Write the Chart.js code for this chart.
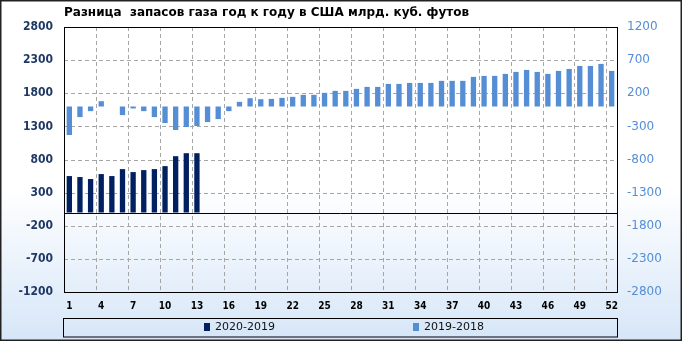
<!DOCTYPE html>
<html><head><meta charset="utf-8">
<script src="https://cdn.jsdelivr.net/npm/chart.js@4"></script>
<style>html,body{margin:0;padding:0;background:#fff}canvas{display:block}</style>
</head><body>
<canvas id="c" width="682" height="341"></canvas>
<script>
const TITLE = "Разница  запасов газа год к году в США млрд. куб. футов";
const categories = Array.from({length: 52}, (_, i) => String(i + 1));
const seriesNames = ["2020-2019", "2019-2018"];
const values2020_2019 = [550, 535, 505, 580, 550, 655, 610, 640, 655, 700, 850, 895, 895];
const values2019_2018 = [-430, -160, -70, 80, 0, -130, -30, -70, -160, -250, -355, -310, -295, -235, -190, -70,
  70, 125, 110, 115, 130, 146, 176, 176, 206, 236, 236, 266, 296, 296, 341, 341, 356, 356, 356, 387, 387, 387,
  447, 462, 462, 492, 522, 552, 522, 492, 537, 567, 612, 612, 643, 537];
const leftTicks = [-1200, 2800, 500];   // min, max, step
const rightTicks = [-2800, 1200, 500];  // min, max, step

const COL_DARK = "#002060";
const COL_BLUE = "#558ed5";
const GRID = "#a6a6a6";
const FONT = "'DejaVu Sans Condensed','DejaVu Sans',sans-serif";

function drawGrid(chart) {
  const {ctx, chartArea: a} = chart;
  const xs = chart.scales.x, ys = chart.scales.y;
  ctx.save();
  ctx.strokeStyle = GRID;
  ctx.lineWidth = 1;
  ctx.setLineDash([4, 3]);
  ys.ticks.forEach(t => {
    const y = Math.round(ys.getPixelForValue(t.value)) + 0.5;
    ctx.beginPath(); ctx.moveTo(a.left, y); ctx.lineTo(a.right, y); ctx.stroke();
  });
  const half = (xs.getPixelForValue(1) - xs.getPixelForValue(0)) / 2;
  for (let i = 3; i < categories.length; i += 3) {
    const x = Math.round(xs.getPixelForValue(i) - half) + 0.5;
    ctx.beginPath(); ctx.moveTo(x, a.top); ctx.lineTo(x, a.bottom); ctx.stroke();
  }
  ctx.restore();
}

const bgPlugin = {
  id: 'bg',
  beforeDraw(chart) {
    const {ctx, width, height} = chart;
    const g = ctx.createLinearGradient(0, 0, 0, height);
    g.addColorStop(0, '#ffffff');
    g.addColorStop(0.55, '#ffffff');
    g.addColorStop(1, '#d6e6f8');
    ctx.save();
    ctx.fillStyle = g;
    ctx.fillRect(0, 0, width, height);
    ctx.restore();
    drawGrid(chart);
  },
  afterDraw(chart) {
    const {ctx, chartArea: a, width, height} = chart;
    ctx.save();
    ctx.strokeStyle = '#000';
    ctx.lineWidth = 1;
    ctx.strokeRect(Math.round(a.left) + 0.5, Math.round(a.top) + 0.5, Math.round(a.right - a.left), Math.round(a.bottom - a.top));
    const y0 = Math.round(chart.scales.y.getPixelForValue(0)) + 0.5;
    ctx.beginPath(); ctx.moveTo(a.left, y0); ctx.lineTo(a.right, y0); ctx.stroke();
    ctx.lineWidth = 1.5;
    ctx.strokeStyle = '#222';
    ctx.strokeRect(0.75, 0.75, width - 1.5, height - 1.5);
    ctx.lineWidth = 1;
    ctx.strokeStyle = '#000';
    const lt = 318.5, lh = 18.5;
    ctx.strokeRect(Math.round(a.left) - 0.5, lt, Math.round(a.right - a.left) + 1, lh);
    const cx = (a.left + a.right) / 2;
    const offs = [-136.5, 72.5];
    ctx.font = "11px 'DejaVu Sans',sans-serif";
    ctx.textBaseline = 'middle';
    ctx.textAlign = 'left';
    chart.data.datasets.forEach((ds, i) => {
      const x = Math.round(cx + offs[i]);
      ctx.fillStyle = ds.backgroundColor;
      ctx.fillRect(x, 323, 6, 8);
      ctx.fillStyle = '#111';
      ctx.fillText(ds.label, x + 11, 327.5);
    });
    ctx.restore();
  }
};

new Chart(document.getElementById('c'), {
  type: 'bar',
  data: {
    labels: categories,
    datasets: [
      {label: seriesNames[0], data: values2020_2019, backgroundColor: COL_DARK, yAxisID: 'y', grouped: false,
       barPercentage: 0.5, categoryPercentage: 1.0, order: 1},
      {label: seriesNames[1], data: values2019_2018, backgroundColor: COL_BLUE, yAxisID: 'y2', grouped: false,
       barPercentage: 0.5, categoryPercentage: 1.0, order: 2}
    ]
  },
  options: {
    responsive: false,
    animation: false,
    events: [],
    layout: {padding: {left: 0, right: 0, top: 0, bottom: 24}},
    plugins: {
      legend: {display: false},
      tooltip: {enabled: false},
      title: {
        display: true, text: TITLE, align: 'start', fullSize: false, color: '#000',
        font: {family: "'DejaVu Sans',sans-serif", size: 12, weight: 'bold', lineHeight: 1.2},
        padding: {top: 6, bottom: 6.6}
      }
    },
    scales: {
      x: {
        type: 'category', offset: true,
        grid: {display: false, offset: true, drawTicks: false},
        border: {display: false},
        ticks: {autoSkip: false, maxRotation: 0, minRotation: 0, padding: 8, color: '#000',
          font: {family: FONT, size: 10, weight: 'bold'},
          callback: function(v, i) { return i % 3 === 0 ? this.getLabelForValue(v) : ''; }},
        afterFit(s) { s.height = 25; }
      },
      y: {
        position: 'left', min: leftTicks[0], max: leftTicks[1],
        ticks: {stepSize: leftTicks[2], padding: 11, color: '#1f3864',
          font: {family: FONT, size: 12, weight: 'bold'},
          callback: (v) => String(v)},
        grid: {display: false, drawTicks: false},
        border: {display: false},
        afterFit(s) { s.width = 64; }
      },
      y2: {
        position: 'right', min: rightTicks[0], max: rightTicks[1],
        ticks: {stepSize: rightTicks[2], padding: 10, color: COL_BLUE,
          font: {family: "'DejaVu Sans',sans-serif", size: 12},
          callback: (v) => String(v)},
        grid: {display: false, drawOnChartArea: false, drawTicks: false},
        border: {display: false},
        afterFit(s) { s.width = 65; }
      }
    }
  },
  plugins: [bgPlugin]
});
</script>
</body></html>
